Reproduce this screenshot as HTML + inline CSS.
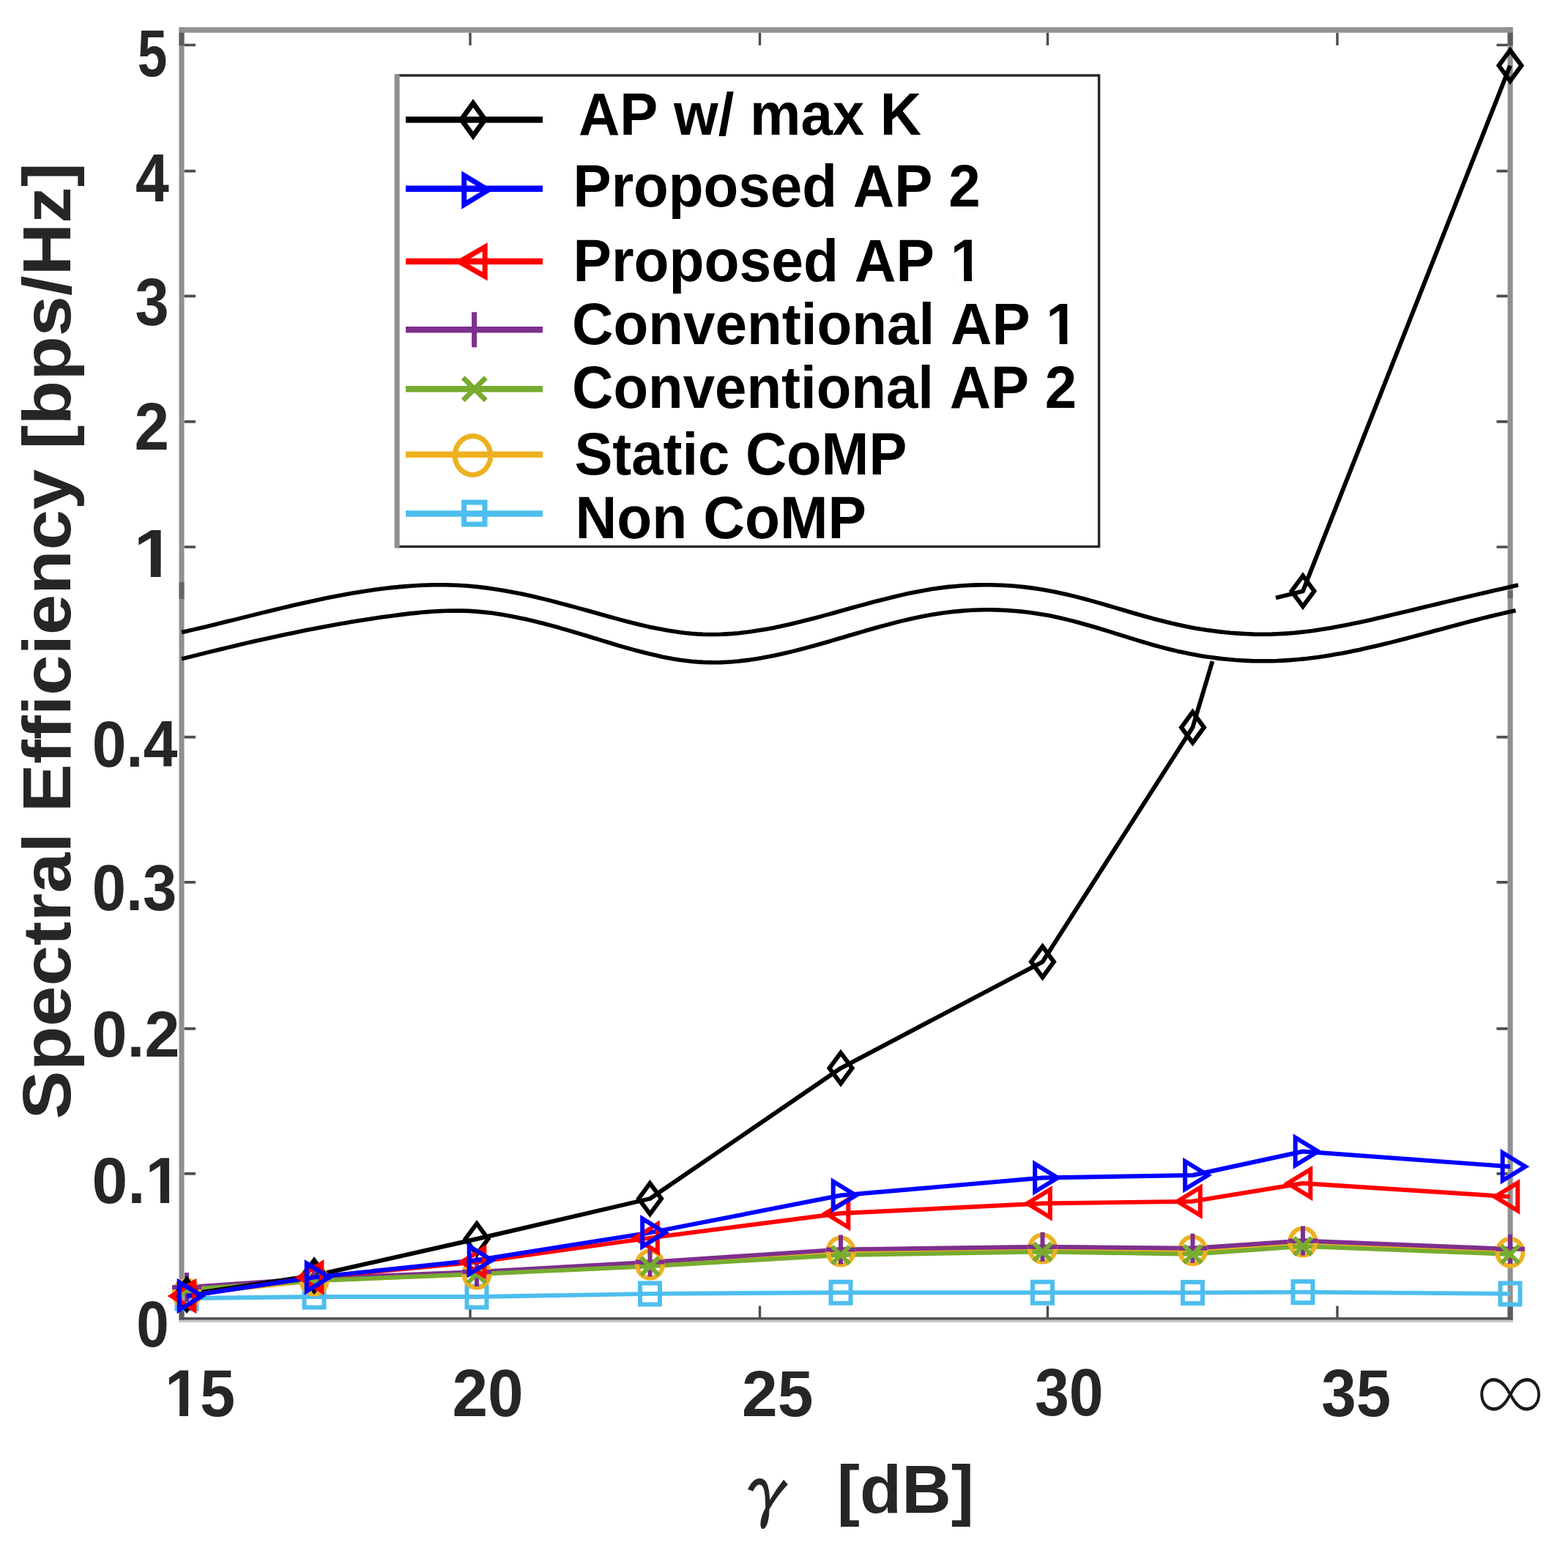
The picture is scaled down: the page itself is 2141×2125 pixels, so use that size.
<!DOCTYPE html><html><head><meta charset="utf-8"><title>Spectral Efficiency vs gamma</title><style>html,body{margin:0;padding:0;background:#fff;overflow:hidden}svg{display:block}</style></head><body>
<svg xmlns="http://www.w3.org/2000/svg" width="2141" height="2125" viewBox="0 0 2141 2125">
<rect width="2141" height="2125" fill="#fff"/>
<path d="M251.5 61.5H267M2043.5 61.5H2058.8" stroke="#4d4d4d" stroke-width="3.6"/>
<path d="M251.5 233.6H267M2043.5 233.6H2058.8" stroke="#4d4d4d" stroke-width="3.6"/>
<path d="M251.5 404.4H267M2043.5 404.4H2058.8" stroke="#4d4d4d" stroke-width="3.6"/>
<path d="M251.5 575.9H267M2043.5 575.9H2058.8" stroke="#4d4d4d" stroke-width="3.6"/>
<path d="M251.5 747H267M2043.5 747H2058.8" stroke="#4d4d4d" stroke-width="3.6"/>
<path d="M251.5 1006.6H267M2043.5 1006.6H2058.8" stroke="#4d4d4d" stroke-width="3.6"/>
<path d="M251.5 1204.9H267M2043.5 1204.9H2058.8" stroke="#4d4d4d" stroke-width="3.6"/>
<path d="M251.5 1404.9H267M2043.5 1404.9H2058.8" stroke="#4d4d4d" stroke-width="3.6"/>
<path d="M251.5 1602.9H267M2043.5 1602.9H2058.8" stroke="#4d4d4d" stroke-width="3.6"/>
<path d="M642 1783.5V1799.1M642 44.7V62" stroke="#4d4d4d" stroke-width="3.4"/>
<path d="M1037.5 1783.5V1799.1M1037.5 44.7V62" stroke="#4d4d4d" stroke-width="3.4"/>
<path d="M1430.5 1783.5V1799.1M1430.5 44.7V62" stroke="#4d4d4d" stroke-width="3.4"/>
<path d="M1826 1783.5V1799.1M1826 44.7V62" stroke="#4d4d4d" stroke-width="3.4"/>
<rect x="244.5" y="37.2" width="1821.2" height="7.5" fill="#919191"/>
<rect x="244.5" y="37.2" width="7" height="1768.5" fill="#8f8f8f"/>
<rect x="2058.6" y="37.2" width="7.1" height="1768.5" fill="#909090"/>
<rect x="244.5" y="44.7" width="7" height="17.5" fill="#5c5c5c"/>
<rect x="244.5" y="1783.5" width="7" height="16" fill="#5c5c5c"/>
<rect x="2058.6" y="44.7" width="7.1" height="17.5" fill="#5c5c5c"/>
<rect x="2058.6" y="1783.5" width="7.1" height="16" fill="#5c5c5c"/>
<rect x="244.5" y="795" width="7" height="23" fill="#666"/>
<rect x="2058.6" y="807" width="7.1" height="10" fill="#6a6a6a"/>
<rect x="244.5" y="1802.6" width="1821.2" height="3.3" fill="#c9c9c9"/>
<rect x="244.5" y="1799" width="1821.2" height="3.6" fill="#555"/>
<path d="M248.0 863.6 L256.0 861.8 L264.0 859.9 L272.0 858.1 L280.0 856.2 L288.0 854.2 L296.0 852.3 L304.0 850.3 L312.0 848.3 L320.0 846.4 L328.0 844.4 L336.0 842.4 L344.0 840.4 L352.0 838.4 L360.0 836.4 L368.0 834.5 L376.0 832.5 L384.0 830.6 L392.0 828.7 L400.0 826.8 L408.0 825.0 L416.0 823.2 L424.0 821.4 L432.0 819.7 L440.0 818.0 L448.0 816.3 L456.0 814.7 L464.0 813.2 L472.0 811.7 L480.0 810.3 L488.0 808.9 L496.0 807.7 L504.0 806.4 L512.0 805.3 L520.0 804.2 L528.0 803.3 L536.0 802.4 L544.0 801.6 L552.0 800.9 L560.0 800.2 L568.0 799.7 L576.0 799.3 L584.0 799.0 L592.0 798.8 L600.0 798.8 L608.0 798.8 L616.0 799.0 L624.0 799.3 L632.0 799.7 L640.0 800.3 L648.0 801.0 L656.0 801.9 L664.0 802.9 L672.0 804.0 L680.0 805.2 L688.0 806.5 L696.0 808.0 L704.0 809.5 L712.0 811.1 L720.0 812.8 L728.0 814.6 L736.0 816.5 L744.0 818.4 L752.0 820.4 L760.0 822.5 L768.0 824.6 L776.0 826.7 L784.0 828.9 L792.0 831.1 L800.0 833.3 L808.0 835.5 L816.0 837.8 L824.0 840.0 L832.0 842.2 L840.0 844.4 L848.0 846.6 L856.0 848.7 L864.0 850.7 L872.0 852.7 L880.0 854.6 L888.0 856.4 L896.0 858.1 L904.0 859.6 L912.0 861.1 L920.0 862.3 L928.0 863.5 L936.0 864.5 L944.0 865.3 L952.0 865.9 L960.0 866.3 L968.0 866.5 L976.0 866.5 L984.0 866.3 L992.0 865.9 L1000.0 865.4 L1008.0 864.7 L1016.0 863.8 L1024.0 862.8 L1032.0 861.6 L1040.0 860.3 L1048.0 858.9 L1056.0 857.4 L1064.0 855.7 L1072.0 854.0 L1080.0 852.2 L1088.0 850.3 L1096.0 848.3 L1104.0 846.3 L1112.0 844.2 L1120.0 842.1 L1128.0 839.9 L1136.0 837.7 L1144.0 835.5 L1152.0 833.3 L1160.0 831.0 L1168.0 828.8 L1176.0 826.6 L1184.0 824.5 L1192.0 822.3 L1200.0 820.2 L1208.0 818.2 L1216.0 816.2 L1224.0 814.3 L1232.0 812.4 L1240.0 810.6 L1248.0 809.0 L1256.0 807.4 L1264.0 806.0 L1272.0 804.6 L1280.0 803.4 L1288.0 802.4 L1296.0 801.4 L1304.0 800.7 L1312.0 800.0 L1320.0 799.5 L1328.0 799.1 L1336.0 798.9 L1344.0 798.8 L1352.0 798.8 L1360.0 799.0 L1368.0 799.3 L1376.0 799.7 L1384.0 800.3 L1392.0 801.0 L1400.0 801.9 L1408.0 802.9 L1416.0 804.0 L1424.0 805.3 L1432.0 806.7 L1440.0 808.2 L1448.0 809.9 L1456.0 811.7 L1464.0 813.6 L1472.0 815.6 L1480.0 817.7 L1488.0 819.9 L1496.0 822.1 L1504.0 824.4 L1512.0 826.7 L1520.0 829.1 L1528.0 831.5 L1536.0 833.8 L1544.0 836.2 L1552.0 838.5 L1560.0 840.8 L1568.0 843.0 L1576.0 845.2 L1584.0 847.3 L1592.0 849.3 L1600.0 851.3 L1608.0 853.1 L1616.0 854.8 L1624.0 856.4 L1632.0 857.9 L1640.0 859.2 L1648.0 860.5 L1656.0 861.6 L1664.0 862.6 L1672.0 863.5 L1680.0 864.3 L1688.0 864.9 L1696.0 865.4 L1704.0 865.8 L1712.0 866.1 L1720.0 866.2 L1728.0 866.2 L1736.0 866.1 L1744.0 865.8 L1752.0 865.4 L1760.0 864.9 L1768.0 864.2 L1776.0 863.4 L1784.0 862.5 L1792.0 861.5 L1800.0 860.3 L1808.0 859.1 L1816.0 857.8 L1824.0 856.3 L1832.0 854.8 L1840.0 853.3 L1848.0 851.6 L1856.0 849.9 L1864.0 848.2 L1872.0 846.4 L1880.0 844.6 L1888.0 842.7 L1896.0 840.8 L1904.0 838.9 L1912.0 837.0 L1920.0 835.1 L1928.0 833.2 L1936.0 831.3 L1944.0 829.3 L1952.0 827.4 L1960.0 825.5 L1968.0 823.5 L1976.0 821.6 L1984.0 819.7 L1992.0 817.8 L2000.0 815.9 L2008.0 814.0 L2016.0 812.1 L2024.0 810.2 L2032.0 808.4 L2040.0 806.5 L2048.0 804.7 L2056.0 802.9 L2064.0 801.1 L2072.0 799.3 L2073.0 799.1" fill="none" stroke="#000" stroke-width="5.6" stroke-linejoin="round"/>
<path d="M248.0 899.9 L256.0 897.9 L264.0 895.9 L272.0 893.9 L280.0 891.9 L288.0 889.9 L296.0 888.0 L304.0 886.0 L312.0 884.1 L320.0 882.2 L328.0 880.3 L336.0 878.4 L344.0 876.6 L352.0 874.8 L360.0 873.0 L368.0 871.2 L376.0 869.5 L384.0 867.7 L392.0 866.0 L400.0 864.4 L408.0 862.7 L416.0 861.1 L424.0 859.5 L432.0 858.0 L440.0 856.4 L448.0 854.9 L456.0 853.5 L464.0 852.0 L472.0 850.7 L480.0 849.3 L488.0 848.0 L496.0 846.7 L504.0 845.5 L512.0 844.3 L520.0 843.1 L528.0 842.0 L536.0 840.9 L544.0 839.9 L552.0 838.9 L560.0 837.9 L568.0 837.1 L576.0 836.3 L584.0 835.6 L592.0 835.0 L600.0 834.6 L608.0 834.2 L616.0 834.1 L624.0 834.0 L632.0 834.1 L640.0 834.4 L648.0 834.9 L656.0 835.6 L664.0 836.4 L672.0 837.3 L680.0 838.5 L688.0 839.8 L696.0 841.2 L704.0 842.7 L712.0 844.4 L720.0 846.1 L728.0 848.0 L736.0 850.0 L744.0 852.0 L752.0 854.1 L760.0 856.3 L768.0 858.6 L776.0 860.9 L784.0 863.2 L792.0 865.6 L800.0 868.0 L808.0 870.5 L816.0 872.9 L824.0 875.4 L832.0 877.8 L840.0 880.2 L848.0 882.6 L856.0 884.9 L864.0 887.1 L872.0 889.2 L880.0 891.3 L888.0 893.3 L896.0 895.1 L904.0 896.9 L912.0 898.5 L920.0 899.9 L928.0 901.2 L936.0 902.3 L944.0 903.2 L952.0 903.9 L960.0 904.4 L968.0 904.6 L976.0 904.7 L984.0 904.6 L992.0 904.2 L1000.0 903.7 L1008.0 903.0 L1016.0 902.1 L1024.0 901.1 L1032.0 899.9 L1040.0 898.6 L1048.0 897.1 L1056.0 895.5 L1064.0 893.8 L1072.0 892.0 L1080.0 890.1 L1088.0 888.1 L1096.0 886.0 L1104.0 883.9 L1112.0 881.7 L1120.0 879.5 L1128.0 877.2 L1136.0 874.9 L1144.0 872.5 L1152.0 870.2 L1160.0 867.8 L1168.0 865.5 L1176.0 863.1 L1184.0 860.8 L1192.0 858.5 L1200.0 856.3 L1208.0 854.1 L1216.0 852.0 L1224.0 849.9 L1232.0 847.9 L1240.0 846.0 L1248.0 844.2 L1256.0 842.6 L1264.0 841.0 L1272.0 839.5 L1280.0 838.2 L1288.0 837.0 L1296.0 836.0 L1304.0 835.1 L1312.0 834.4 L1320.0 833.8 L1328.0 833.3 L1336.0 833.0 L1344.0 832.8 L1352.0 832.8 L1360.0 832.9 L1368.0 833.2 L1376.0 833.6 L1384.0 834.2 L1392.0 834.9 L1400.0 835.7 L1408.0 836.7 L1416.0 837.9 L1424.0 839.2 L1432.0 840.6 L1440.0 842.2 L1448.0 844.0 L1456.0 845.9 L1464.0 847.9 L1472.0 850.0 L1480.0 852.2 L1488.0 854.5 L1496.0 856.8 L1504.0 859.2 L1512.0 861.7 L1520.0 864.2 L1528.0 866.7 L1536.0 869.2 L1544.0 871.7 L1552.0 874.1 L1560.0 876.5 L1568.0 878.9 L1576.0 881.2 L1584.0 883.4 L1592.0 885.5 L1600.0 887.5 L1608.0 889.4 L1616.0 891.1 L1624.0 892.8 L1632.0 894.3 L1640.0 895.7 L1648.0 897.0 L1656.0 898.1 L1664.0 899.1 L1672.0 900.0 L1680.0 900.8 L1688.0 901.5 L1696.0 902.0 L1704.0 902.4 L1712.0 902.7 L1720.0 902.8 L1728.0 902.8 L1736.0 902.7 L1744.0 902.5 L1752.0 902.1 L1760.0 901.6 L1768.0 901.0 L1776.0 900.3 L1784.0 899.5 L1792.0 898.5 L1800.0 897.4 L1808.0 896.3 L1816.0 895.0 L1824.0 893.6 L1832.0 892.2 L1840.0 890.7 L1848.0 889.0 L1856.0 887.4 L1864.0 885.6 L1872.0 883.8 L1880.0 882.0 L1888.0 880.0 L1896.0 878.1 L1904.0 876.1 L1912.0 874.0 L1920.0 872.0 L1928.0 869.9 L1936.0 867.8 L1944.0 865.6 L1952.0 863.5 L1960.0 861.3 L1968.0 859.2 L1976.0 857.0 L1984.0 854.9 L1992.0 852.7 L2000.0 850.6 L2008.0 848.5 L2016.0 846.5 L2024.0 844.4 L2032.0 842.5 L2040.0 840.5 L2048.0 838.6 L2056.0 836.8 L2064.0 835.0 L2069.5 833.8" fill="none" stroke="#000" stroke-width="5.6" stroke-linejoin="round"/>
<path d="M255 1773 L429 1771 L651 1771 L887.5 1766.9 L1148 1765.2 L1423.5 1765.2 L1628.5 1765.4 L1779 1764.6 L2062 1766.9" fill="none" stroke="#4dbeee" stroke-width="5.9" stroke-linejoin="round"/>
<path d="M255 1767 L429 1749 L651 1740 L887.5 1727 L1148 1709 L1423.5 1705 L1628.5 1707.7 L1779 1696 L2062 1710.4" fill="none" stroke="#edb120" stroke-width="5.9" stroke-linejoin="round"/>
<path d="M255 1758 L429 1746 L651 1737 L887.5 1723.6 L1148 1706.4 L1423.5 1702.7 L1628.5 1704.7 L1779 1694.5 L2062 1705.8" fill="none" stroke="#7e2f8e" stroke-width="5.9" stroke-linejoin="round"/>
<path d="M255 1761 L429 1749 L651 1740 L887.5 1729.3 L1148 1714 L1423.5 1709.6 L1628.5 1712.8 L1779 1702 L2062 1713" fill="none" stroke="#77ac30" stroke-width="5.9" stroke-linejoin="round"/>
<path d="M255 1768 L429 1742 L651 1692 L887.5 1637 L1148 1458.8 L1423.5 1313.6 L1628.5 993.4 L1655.5 903" fill="none" stroke="#000" stroke-width="5.9" stroke-linejoin="round"/>
<path d="M1742 816.5 L1779 807.3 L2062 89.6" fill="none" stroke="#000" stroke-width="5.9" stroke-linejoin="round"/>
<rect x="241.5" y="1758.5" width="27" height="29" fill="none" stroke="#4dbeee" stroke-width="6"/>
<rect x="415.5" y="1756.5" width="27" height="29" fill="none" stroke="#4dbeee" stroke-width="6"/>
<rect x="637.5" y="1756.5" width="27" height="29" fill="none" stroke="#4dbeee" stroke-width="6"/>
<rect x="874" y="1752.4" width="27" height="29" fill="none" stroke="#4dbeee" stroke-width="6"/>
<rect x="1134.5" y="1750.7" width="27" height="29" fill="none" stroke="#4dbeee" stroke-width="6"/>
<rect x="1410" y="1750.7" width="27" height="29" fill="none" stroke="#4dbeee" stroke-width="6"/>
<rect x="1615" y="1750.9" width="27" height="29" fill="none" stroke="#4dbeee" stroke-width="6"/>
<rect x="1765.5" y="1750.1" width="27" height="29" fill="none" stroke="#4dbeee" stroke-width="6"/>
<rect x="2048.5" y="1752.4" width="27" height="29" fill="none" stroke="#4dbeee" stroke-width="6"/>
<ellipse cx="255" cy="1767" rx="17.5" ry="18.5" fill="none" stroke="#edb120" stroke-width="6"/>
<ellipse cx="429" cy="1749" rx="17.5" ry="18.5" fill="none" stroke="#edb120" stroke-width="6"/>
<ellipse cx="651" cy="1740" rx="17.5" ry="18.5" fill="none" stroke="#edb120" stroke-width="6"/>
<ellipse cx="887.5" cy="1727" rx="17.5" ry="18.5" fill="none" stroke="#edb120" stroke-width="6"/>
<ellipse cx="1148" cy="1709" rx="17.5" ry="18.5" fill="none" stroke="#edb120" stroke-width="6"/>
<ellipse cx="1423.5" cy="1705" rx="17.5" ry="18.5" fill="none" stroke="#edb120" stroke-width="6"/>
<ellipse cx="1628.5" cy="1707.7" rx="17.5" ry="18.5" fill="none" stroke="#edb120" stroke-width="6"/>
<ellipse cx="1779" cy="1696" rx="17.5" ry="18.5" fill="none" stroke="#edb120" stroke-width="6"/>
<ellipse cx="2062" cy="1710.4" rx="17.5" ry="18.5" fill="none" stroke="#edb120" stroke-width="6"/>
<path d="M235 1758H275M255 1738V1778" stroke="#7e2f8e" stroke-width="6" fill="none"/>
<path d="M409 1746H449M429 1726V1766" stroke="#7e2f8e" stroke-width="6" fill="none"/>
<path d="M631 1737H671M651 1717V1757" stroke="#7e2f8e" stroke-width="6" fill="none"/>
<path d="M867.5 1723.6H907.5M887.5 1703.6V1743.6" stroke="#7e2f8e" stroke-width="6" fill="none"/>
<path d="M1128 1706.4H1168M1148 1686.4V1726.4" stroke="#7e2f8e" stroke-width="6" fill="none"/>
<path d="M1403.5 1702.7H1443.5M1423.5 1682.7V1722.7" stroke="#7e2f8e" stroke-width="6" fill="none"/>
<path d="M1608.5 1704.7H1648.5M1628.5 1684.7V1724.7" stroke="#7e2f8e" stroke-width="6" fill="none"/>
<path d="M1759 1694.5H1799M1779 1674.5V1714.5" stroke="#7e2f8e" stroke-width="6" fill="none"/>
<path d="M2042 1705.8H2082M2062 1685.8V1725.8" stroke="#7e2f8e" stroke-width="6" fill="none"/>
<path d="M243 1749L267 1773M243 1773L267 1749" stroke="#77ac30" stroke-width="6" fill="none"/>
<path d="M417 1737L441 1761M417 1761L441 1737" stroke="#77ac30" stroke-width="6" fill="none"/>
<path d="M639 1728L663 1752M639 1752L663 1728" stroke="#77ac30" stroke-width="6" fill="none"/>
<path d="M875.5 1717.3L899.5 1741.3M875.5 1741.3L899.5 1717.3" stroke="#77ac30" stroke-width="6" fill="none"/>
<path d="M1136 1702L1160 1726M1136 1726L1160 1702" stroke="#77ac30" stroke-width="6" fill="none"/>
<path d="M1411.5 1697.6L1435.5 1721.6M1411.5 1721.6L1435.5 1697.6" stroke="#77ac30" stroke-width="6" fill="none"/>
<path d="M1616.5 1700.8L1640.5 1724.8M1616.5 1724.8L1640.5 1700.8" stroke="#77ac30" stroke-width="6" fill="none"/>
<path d="M1767 1690L1791 1714M1767 1714L1791 1690" stroke="#77ac30" stroke-width="6" fill="none"/>
<path d="M2050 1701L2074 1725M2050 1725L2074 1701" stroke="#77ac30" stroke-width="6" fill="none"/>
<path d="M255 1747L270.5 1768L255 1789L239.5 1768Z" fill="none" stroke="#000" stroke-width="6" stroke-linejoin="miter" stroke-miterlimit="10"/>
<path d="M429 1721L444.5 1742L429 1763L413.5 1742Z" fill="none" stroke="#000" stroke-width="6" stroke-linejoin="miter" stroke-miterlimit="10"/>
<path d="M651 1671L666.5 1692L651 1713L635.5 1692Z" fill="none" stroke="#000" stroke-width="6" stroke-linejoin="miter" stroke-miterlimit="10"/>
<path d="M887.5 1616L903 1637L887.5 1658L872 1637Z" fill="none" stroke="#000" stroke-width="6" stroke-linejoin="miter" stroke-miterlimit="10"/>
<path d="M1148 1437.8L1163.5 1458.8L1148 1479.8L1132.5 1458.8Z" fill="none" stroke="#000" stroke-width="6" stroke-linejoin="miter" stroke-miterlimit="10"/>
<path d="M1423.5 1292.6L1439 1313.6L1423.5 1334.6L1408 1313.6Z" fill="none" stroke="#000" stroke-width="6" stroke-linejoin="miter" stroke-miterlimit="10"/>
<path d="M1628.5 972.4L1644 993.4L1628.5 1014.4L1613 993.4Z" fill="none" stroke="#000" stroke-width="6" stroke-linejoin="miter" stroke-miterlimit="10"/>
<path d="M1779 786.3L1794.5 807.3L1779 828.3L1763.5 807.3Z" fill="none" stroke="#000" stroke-width="6" stroke-linejoin="miter" stroke-miterlimit="10"/>
<path d="M2062 68.6L2077.5 89.6L2062 110.6L2046.5 89.6Z" fill="none" stroke="#000" stroke-width="6" stroke-linejoin="miter" stroke-miterlimit="10"/>
<path d="M255 1770 L429 1744.4 L651 1723.5 L887.5 1690.7 L1148 1657 L1423.5 1643.5 L1628.5 1640.7 L1779 1616 L2062 1634.4" fill="none" stroke="#ff0000" stroke-width="5.9" stroke-linejoin="round"/>
<path d="M255 1770 L429 1744.4 L651 1721 L887.5 1683.4 L1148 1632.5 L1423.5 1608.5 L1628.5 1605 L1779 1572.5 L2062 1593.2" fill="none" stroke="#0000ff" stroke-width="5.9" stroke-linejoin="round"/>
<path d="M265.33 1751 L234.33 1770 L265.33 1789Z" fill="none" stroke="#ff0000" stroke-width="6" stroke-linejoin="miter" stroke-miterlimit="10"/>
<path d="M439.33 1725.4 L408.33 1744.4 L439.33 1763.4Z" fill="none" stroke="#ff0000" stroke-width="6" stroke-linejoin="miter" stroke-miterlimit="10"/>
<path d="M661.33 1704.5 L630.33 1723.5 L661.33 1742.5Z" fill="none" stroke="#ff0000" stroke-width="6" stroke-linejoin="miter" stroke-miterlimit="10"/>
<path d="M897.83 1671.7 L866.83 1690.7 L897.83 1709.7Z" fill="none" stroke="#ff0000" stroke-width="6" stroke-linejoin="miter" stroke-miterlimit="10"/>
<path d="M1158.33 1638 L1127.33 1657 L1158.33 1676Z" fill="none" stroke="#ff0000" stroke-width="6" stroke-linejoin="miter" stroke-miterlimit="10"/>
<path d="M1433.83 1624.5 L1402.83 1643.5 L1433.83 1662.5Z" fill="none" stroke="#ff0000" stroke-width="6" stroke-linejoin="miter" stroke-miterlimit="10"/>
<path d="M1638.83 1621.7 L1607.83 1640.7 L1638.83 1659.7Z" fill="none" stroke="#ff0000" stroke-width="6" stroke-linejoin="miter" stroke-miterlimit="10"/>
<path d="M1789.33 1597 L1758.33 1616 L1789.33 1635Z" fill="none" stroke="#ff0000" stroke-width="6" stroke-linejoin="miter" stroke-miterlimit="10"/>
<path d="M2072.33 1615.4 L2041.33 1634.4 L2072.33 1653.4Z" fill="none" stroke="#ff0000" stroke-width="6" stroke-linejoin="miter" stroke-miterlimit="10"/>
<path d="M244.67 1751 L275.67 1770 L244.67 1789Z" fill="none" stroke="#0000ff" stroke-width="6" stroke-linejoin="miter" stroke-miterlimit="10"/>
<path d="M418.67 1725.4 L449.67 1744.4 L418.67 1763.4Z" fill="none" stroke="#0000ff" stroke-width="6" stroke-linejoin="miter" stroke-miterlimit="10"/>
<path d="M640.67 1702 L671.67 1721 L640.67 1740Z" fill="none" stroke="#0000ff" stroke-width="6" stroke-linejoin="miter" stroke-miterlimit="10"/>
<path d="M877.17 1664.4 L908.17 1683.4 L877.17 1702.4Z" fill="none" stroke="#0000ff" stroke-width="6" stroke-linejoin="miter" stroke-miterlimit="10"/>
<path d="M1137.67 1613.5 L1168.67 1632.5 L1137.67 1651.5Z" fill="none" stroke="#0000ff" stroke-width="6" stroke-linejoin="miter" stroke-miterlimit="10"/>
<path d="M1413.17 1589.5 L1444.17 1608.5 L1413.17 1627.5Z" fill="none" stroke="#0000ff" stroke-width="6" stroke-linejoin="miter" stroke-miterlimit="10"/>
<path d="M1618.17 1586 L1649.17 1605 L1618.17 1624Z" fill="none" stroke="#0000ff" stroke-width="6" stroke-linejoin="miter" stroke-miterlimit="10"/>
<path d="M1768.67 1553.5 L1799.67 1572.5 L1768.67 1591.5Z" fill="none" stroke="#0000ff" stroke-width="6" stroke-linejoin="miter" stroke-miterlimit="10"/>
<path d="M2051.67 1574.2 L2082.67 1593.2 L2051.67 1612.2Z" fill="none" stroke="#0000ff" stroke-width="6" stroke-linejoin="miter" stroke-miterlimit="10"/>
<rect x="542.1" y="103" width="958.5" height="643.5" fill="#fff" stroke="#262626" stroke-width="3.4"/>
<rect x="538.6" y="101.3" width="7" height="647" fill="#8e8e8e"/>
<path d="M554 163.4H741" stroke="#000" stroke-width="8.5"/>
<path d="M646 141L662 163.3L646 185.6L630 163.3Z" fill="none" stroke="#000" stroke-width="7" stroke-linejoin="miter" stroke-miterlimit="10"/>
<path d="M554 257.7H741" stroke="#0000ff" stroke-width="8.5"/>
<path d="M633.7 239.6 L666.7 259.6 L633.7 279.6Z" fill="none" stroke="#0000ff" stroke-width="7" stroke-linejoin="miter" stroke-miterlimit="10"/>
<path d="M554 357H741" stroke="#ff0000" stroke-width="8.5"/>
<path d="M662.17 337.4 L627.17 357.4 L662.17 377.4Z" fill="none" stroke="#ff0000" stroke-width="7" stroke-linejoin="miter" stroke-miterlimit="10"/>
<path d="M554 450.2H741" stroke="#7e2f8e" stroke-width="8.5"/>
<path d="M623.6 450.2H671.6M647.6 426.2V474.2" stroke="#7e2f8e" stroke-width="7" fill="none"/>
<path d="M554 531.2H741" stroke="#77ac30" stroke-width="8.5"/>
<path d="M632.3 515.7L663.3 546.7M632.3 546.7L663.3 515.7" stroke="#77ac30" stroke-width="7" fill="none"/>
<path d="M554 620.7H741" stroke="#edb120" stroke-width="8.5"/>
<ellipse cx="645.5" cy="622" rx="24.3" ry="26.5" fill="none" stroke="#edb120" stroke-width="7"/>
<path d="M554 701.4H741" stroke="#4dbeee" stroke-width="8.5"/>
<rect x="633.6" y="686" width="28.4" height="30" fill="none" stroke="#4dbeee" stroke-width="7"/>
<defs><clipPath id="c4" clipPathUnits="userSpaceOnUse"><rect x="-2000" y="-3000" width="8000" height="2977.09"/><rect x="-2000.00" y="-22.92" width="2011.10" height="3000"/><rect x="46.68" y="-22.92" width="27.44" height="3000"/><rect x="107.16" y="-22.92" width="5892.84" height="3000"/></clipPath><clipPath id="c8" clipPathUnits="userSpaceOnUse"><rect x="-2000" y="-3000" width="8000" height="2977.09"/><rect x="-2000.00" y="-22.92" width="2177.89" height="3000"/><rect x="213.48" y="-22.92" width="27.44" height="3000"/><rect x="273.96" y="-22.92" width="5726.04" height="3000"/></clipPath><clipPath id="c10" clipPathUnits="userSpaceOnUse"><rect x="-2000" y="-3000" width="8000" height="2977.09"/><rect x="-2000.00" y="-22.92" width="2011.10" height="3000"/><rect x="46.68" y="-22.92" width="27.44" height="3000"/><rect x="107.16" y="-22.92" width="5892.84" height="3000"/></clipPath><clipPath id="c17" clipPathUnits="userSpaceOnUse"><rect x="-2000" y="-3000" width="8000" height="2977.09"/><rect x="-2000.00" y="-22.92" width="3322.43" height="3000"/><rect x="1358.01" y="-22.92" width="27.44" height="3000"/><rect x="1418.49" y="-22.92" width="4581.51" height="3000"/></clipPath><clipPath id="c18" clipPathUnits="userSpaceOnUse"><rect x="-2000" y="-3000" width="8000" height="2977.09"/><rect x="-2000.00" y="-22.92" width="3666.76" height="3000"/><rect x="1702.34" y="-22.92" width="27.44" height="3000"/><rect x="1762.83" y="-22.92" width="4237.17" height="3000"/></clipPath></defs>
<text transform="matrix(0.365 0 0 0.454 187.81 103.691)" font-family="Liberation Sans" font-weight="bold" font-style="normal" font-size="200" fill="#262626" style="font-kerning:none">5</text>
<text transform="matrix(0.412 0 0 0.464 185.064 274.6)" font-family="Liberation Sans" font-weight="bold" font-style="normal" font-size="200" fill="#262626" style="font-kerning:none">4</text>
<text transform="matrix(0.414 0 0 0.454 184.429 443.692)" font-family="Liberation Sans" font-weight="bold" font-style="normal" font-size="200" fill="#262626" style="font-kerning:none">3</text>
<text transform="matrix(0.427 0 0 0.456 183.51 613.9)" font-family="Liberation Sans" font-weight="bold" font-style="normal" font-size="200" fill="#262626" style="font-kerning:none">2</text>
<text transform="matrix(0.5 0 0 0.463 182.5 787.7)" font-family="Liberation Sans" font-weight="bold" font-style="normal" font-size="200" fill="#262626" style="font-kerning:none" clip-path="url(#c4)">1</text>
<text transform="matrix(0.42 0 0 0.446 125.639 1046.607)" font-family="Liberation Sans" font-weight="bold" font-style="normal" font-size="200" fill="#262626" style="font-kerning:none">0.4</text>
<text transform="matrix(0.416 0 0 0.449 125.669 1243.001)" font-family="Liberation Sans" font-weight="bold" font-style="normal" font-size="200" fill="#262626" style="font-kerning:none">0.3</text>
<text transform="matrix(0.431 0 0 0.449 125.55 1443.001)" font-family="Liberation Sans" font-weight="bold" font-style="normal" font-size="200" fill="#262626" style="font-kerning:none">0.2</text>
<text transform="matrix(0.438 0 0 0.449 125.498 1642.901)" font-family="Liberation Sans" font-weight="bold" font-style="normal" font-size="200" fill="#262626" style="font-kerning:none" clip-path="url(#c8)">0.1</text>
<text transform="matrix(0.4 0 0 0.449 186.3 1839.001)" font-family="Liberation Sans" font-weight="bold" font-style="normal" font-size="200" fill="#262626" style="font-kerning:none">0</text>
<text transform="matrix(0.433 0 0 0.458 224.931 1933.684)" font-family="Liberation Sans" font-weight="bold" font-style="normal" font-size="200" fill="#262626" style="font-kerning:none" clip-path="url(#c10)">15</text>
<text transform="matrix(0.437 0 0 0.451 617.44 1933.599)" font-family="Liberation Sans" font-weight="bold" font-style="normal" font-size="200" fill="#262626" style="font-kerning:none">20</text>
<text transform="matrix(0.438 0 0 0.449 1012.933 1933.601)" font-family="Liberation Sans" font-weight="bold" font-style="normal" font-size="200" fill="#262626" style="font-kerning:none">25</text>
<text transform="matrix(0.421 0 0 0.454 1412.895 1933.092)" font-family="Liberation Sans" font-weight="bold" font-style="normal" font-size="200" fill="#262626" style="font-kerning:none">30</text>
<text transform="matrix(0.427 0 0 0.454 1804.366 1933.592)" font-family="Liberation Sans" font-weight="bold" font-style="normal" font-size="200" fill="#262626" style="font-kerning:none">35</text>
<text transform="matrix(0.39 0 0 0.412 790.048 184.3)" font-family="Liberation Sans" font-weight="bold" font-style="normal" font-size="200" fill="#000" style="font-kerning:none">AP w/ max K</text>
<text transform="matrix(0.391 0 0 0.407 782.521 282)" font-family="Liberation Sans" font-weight="bold" font-style="normal" font-size="200" fill="#000" style="font-kerning:none">Proposed AP 2</text>
<text transform="matrix(0.393 0 0 0.407 782.492 383.5)" font-family="Liberation Sans" font-weight="bold" font-style="normal" font-size="200" fill="#000" style="font-kerning:none" clip-path="url(#c17)">Proposed AP 1</text>
<text transform="matrix(0.391 0 0 0.402 781.069 470.3)" font-family="Liberation Sans" font-weight="bold" font-style="normal" font-size="200" fill="#000" style="font-kerning:none" clip-path="url(#c18)">Conventional AP 1</text>
<text transform="matrix(0.39 0 0 0.405 781.078 557.2)" font-family="Liberation Sans" font-weight="bold" font-style="normal" font-size="200" fill="#000" style="font-kerning:none">Conventional AP 2</text>
<text transform="matrix(0.389 0 0 0.407 784.466 648)" font-family="Liberation Sans" font-weight="bold" font-style="normal" font-size="200" fill="#000" style="font-kerning:none">Static CoMP</text>
<text transform="matrix(0.393 0 0 0.408 785.591 735.1)" font-family="Liberation Sans" font-weight="bold" font-style="normal" font-size="200" fill="#000" style="font-kerning:none">Non CoMP</text>
<text transform="matrix(0.468 0 0 0.463 1142.849 2066.072)" font-family="Liberation Sans" font-weight="bold" font-style="normal" font-size="200" fill="#262626" style="font-kerning:none">[dB]</text>
<text transform="translate(96.272 1528.475) rotate(-90) scale(0.496 0.463)" font-family="Liberation Sans" font-weight="bold" font-style="normal" font-size="200" fill="#262626" style="font-kerning:none">Spectral Efficiency [bps/Hz]</text>
<text transform="matrix(0.44 0 0 0.526 2018.218 1942.838)" font-family="Noto Serif CJK SC" font-weight="normal" font-style="normal" font-size="200" fill="#1a1a1a" style="font-kerning:none">&#8734;</text>
<text transform="matrix(0.46 0 0 0.54 1002.533 2077.543)" font-family="IPAGothic" font-weight="normal" font-style="normal" font-size="200" fill="#262626" style="font-kerning:none">&#947;</text>
</svg></body></html>
